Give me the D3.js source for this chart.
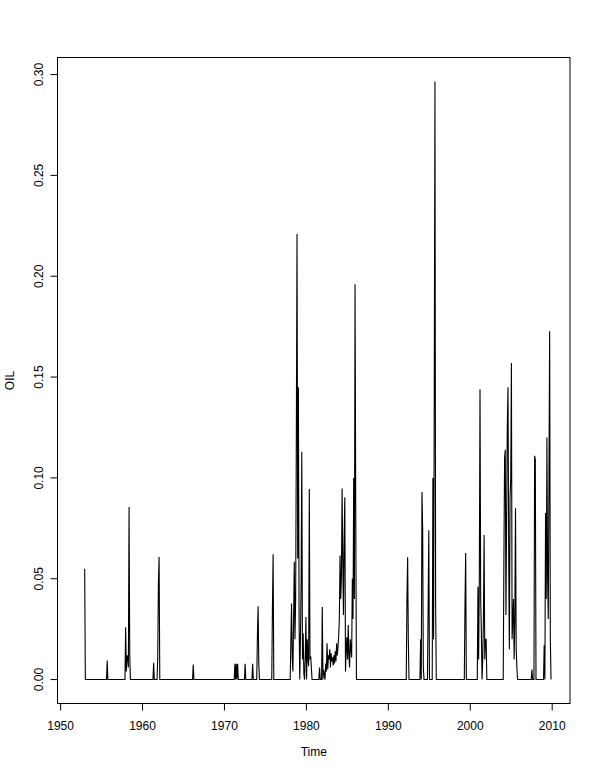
<!DOCTYPE html>
<html>
<head>
<meta charset="utf-8">
<script src="https://cdn.jsdelivr.net/npm/d3@7"></script>
<style>
html,body{margin:0;padding:0;background:#fff;}
svg{display:block;font-family:"Liberation Sans",Arial,Helvetica,sans-serif;}
</style>
</head>
<body>
<svg id="chart" width="600" height="776"></svg>
<script>
// Series span (monthly ts; 1952 values are NA)
const timeStart = 1952;
const timeEnd = 2009 + 11/12;

// Observations (decimal year, value) — zeros mark the flat stretches.
// Each line of `time` matches the same line of `oil`.
const time = [
 1953.000,1953.083,1955.667,1955.750,1955.833,
 1957.917,1958.000,1958.083,1958.167,1958.250,1958.333,1958.417,1958.500,1958.583,
 1961.333,1961.417,1961.500,1961.833,1961.917,1962.000,1962.083,1962.167,
 1966.167,1966.250,1966.333,
 1971.250,1971.333,1971.417,1971.500,1971.583,1971.667,1971.750,1971.833,
 1972.500,1972.583,1972.667,1973.417,1973.500,1973.583,
 1974.000,1974.083,1974.167,1974.250,1974.333,
 1975.833,1975.917,1976.000,1976.083,
 1978.083,1978.167,1978.250,1978.333,1978.417,1978.500,1978.583,1978.667,1978.750,1978.833,1978.917,
 1979.000,1979.083,1979.167,1979.250,1979.333,1979.417,1979.500,1979.583,1979.667,1979.750,1979.833,1979.917,
 1980.000,1980.083,1980.167,1980.250,1980.333,1980.417,1980.500,1980.583,1980.667,1980.750,
 1981.583,1981.667,1981.750,1981.917,1982.000,1982.083,1982.167,1982.333,1982.417,1982.500,
 1982.583,1982.667,1982.750,1982.833,1982.917,1983.000,1983.083,1983.167,1983.250,1983.333,1983.417,
 1983.500,1983.583,1983.667,1983.750,1983.833,1983.917,1984.000,1984.083,1984.167,1984.250,1984.333,
 1984.417,1984.500,1984.583,1984.667,1984.750,1984.833,1984.917,1985.000,1985.083,1985.167,1985.250,
 1985.333,1985.417,1985.500,1985.583,1985.667,1985.750,1985.833,1985.917,1986.000,1986.083,1986.167,1986.250,
 1992.250,1992.333,1992.417,1992.500,1992.583,
 1993.917,1994.000,1994.083,1994.167,1994.250,1994.333,1994.417,
 1994.833,1994.917,1995.000,1995.083,
 1995.417,1995.500,1995.583,1995.667,1995.750,1995.833,1995.917,1996.000,
 1999.333,1999.417,1999.500,1999.583,
 2000.917,2001.000,2001.083,2001.167,2001.250,2001.333,2001.417,2001.500,2001.583,2001.667,
 2001.750,2001.833,2001.917,2002.000,2002.083,
 2004.083,2004.167,2004.250,2004.333,2004.417,2004.500,2004.583,2004.667,2004.750,2004.833,
 2004.917,2005.000,2005.083,2005.167,2005.250,2005.333,2005.417,2005.500,2005.583,2005.667,
 2005.750,2005.833,
 2007.500,2007.583,2007.667,2007.833,2007.917,2008.000,2008.083,
 2009.000,2009.083,2009.167,2009.250,2009.333,2009.417,2009.500,2009.583,2009.667,2009.750,2009.833,2009.917
];
const oil = [
 0.055,0,0,0.0094,0,
 0,0.026,0.004,0.012,0.011,0.006,0.0856,0.012,0,
 0,0.0083,0,0,0.011,0.048,0.0608,0,
 0,0.0075,0,
 0,0.0078,0,0.0078,0,0.0078,0,0,
 0,0.0078,0,0,0.0078,0,
 0,0.022,0.0364,0.008,0,
 0,0.036,0.0621,0,
 0,0.02,0.0377,0.01,0.004,0.03,0.0584,0.02,0.04,0.12,0.221,
 0.06,0.145,0.03,0,0.02,0.048,0.113,0.01,0.023,0.003,0,0.01,
 0.031,0,0.02,0.01,0.0066,0.0945,0.01,0.0116,0.006,0,
 0,0.006,0,0,0.036,0,0.005,0,0.008,0.004,
 0.018,0.005,0.012,0.01,0.015,0.006,0.013,0.009,0.011,0.007,0.012,
 0.008,0.014,0.009,0.018,0.012,0.016,0.0215,0.03,0.0615,0.04,0.05,
 0.0948,0.06,0.032,0.07,0.0904,0.004,0.015,0.021,0.01,0.027,0.012,
 0.006,0.02,0.015,0.011,0.05,0.03,0.1,0.04,0.196,0.085,0,0,
 0,0.04,0.0607,0.02,0,
 0,0.02,0,0.093,0.075,0.006,0,
 0,0.035,0.074,0,
 0,0.1,0.02,0.143,0.2966,0.036,0,0,
 0,0.037,0.0628,0,
 0,0.046,0.01,0.05,0.144,0.04,0.023,0,0.01,0.03,
 0.0717,0.01,0.02,0.02,0,
 0,0.06,0.11,0.114,0.032,0.08,0.126,0.145,0.064,0.015,
 0.09,0.1,0.157,0.02,0.03,0.04,0.01,0.03,0.085,0.015,
 0.006,0,
 0,0.005,0,0,0.111,0.109,0,
 0,0.017,0,0.0826,0.04,0.12,0.05,0.03,0.1,0.1727,0.02,0
];

const xTicks = [1950,1960,1970,1980,1990,2000,2010];
const yTicks = [0,0.05,0.10,0.15,0.20,0.25,0.30];
const xLabel = "Time";
const yLabel = "OIL";

const svg = d3.select("#chart");
const L = 57.5, R = 570, T = 57.5, B = 703.5;

// R-style 4% axis extension
const xPad = (timeEnd - timeStart) * 0.04;
const yMax = d3.max(oil), yMin = d3.min(oil);
const yPad = (yMax - yMin) * 0.04;
const x = d3.scaleLinear().domain([timeStart - xPad, timeEnd + xPad]).range([L, R]);
const y = d3.scaleLinear().domain([yMin - yPad, yMax + yPad]).range([B, T]);

const n = Math.min(time.length, oil.length);
const pts = d3.range(n).map(i=>({t: time[i], v: oil[i]}));
svg.append("path")
  .datum(pts)
  .attr("fill","none")
  .attr("stroke","#000")
  .attr("stroke-width",1.1)
  .attr("stroke-linejoin","miter")
  .attr("d", d3.line().x(d=>x(d.t)).y(d=>y(d.v)));

// box
svg.append("rect").attr("x",L).attr("y",T).attr("width",R-L).attr("height",B-T)
  .attr("fill","none").attr("stroke","#000").attr("stroke-width",1);

// x axis
const xa = svg.append("g").attr("transform",`translate(0,${B})`)
  .call(d3.axisBottom(x).tickValues(xTicks).tickFormat(d3.format("d")).tickSize(7).tickPadding(11));
xa.select(".domain").attr("d", `M${x(xTicks[0])},0H${x(xTicks[xTicks.length-1])}`);
xa.selectAll("text").attr("font-size",12).attr("fill","#000").attr("font-family","Liberation Sans, Arial, sans-serif");
xa.selectAll("line").attr("stroke","#000");

// y axis
const ya = svg.append("g").attr("transform",`translate(${L},0)`)
  .call(d3.axisLeft(y).tickValues(yTicks).tickFormat(d3.format(".2f")).tickSize(7));
ya.select(".domain").attr("d", `M0,${y(yTicks[0])}V${y(yTicks[yTicks.length-1])}`);
ya.selectAll("line").attr("stroke","#000");
ya.selectAll("text")
  .attr("x",null).attr("dy",null)
  .attr("transform", d => `translate(-15,${y(d)}) rotate(-90)`)
  .attr("y",0)
  .attr("text-anchor","middle")
  .attr("font-size",12).attr("fill","#000").attr("font-family","Liberation Sans, Arial, sans-serif");
ya.selectAll(".tick").attr("transform",null);
ya.selectAll(".tick line").attr("transform", d=>`translate(0,${y(d)})`);

svg.append("text").attr("x",(L+R)/2).attr("y",756).attr("text-anchor","middle")
  .attr("font-size",12).text(xLabel);
svg.append("text").attr("transform",`translate(14,${(T+B)/2}) rotate(-90)`).attr("text-anchor","middle")
  .attr("font-size",12).text(yLabel);
</script>
</body>
</html>
